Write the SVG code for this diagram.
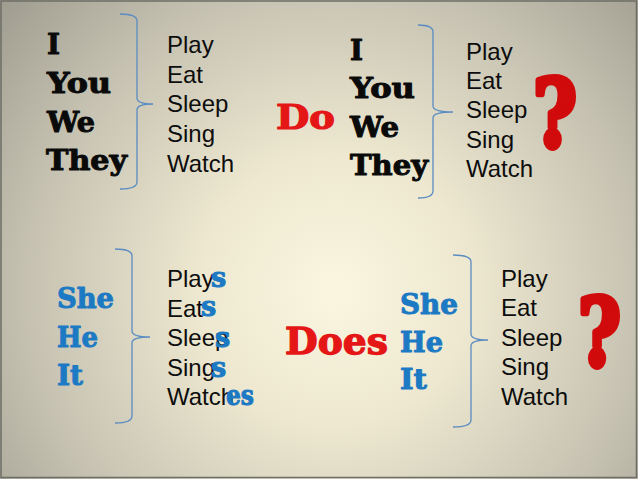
<svg xmlns="http://www.w3.org/2000/svg" width="638" height="479" viewBox="0 0 638 479">
  <defs>
    <radialGradient id="bg" gradientUnits="userSpaceOnUse" cx="335" cy="290" r="450">
      <stop offset="0" stop-color="#fbf6e0"/>
      <stop offset="0.3" stop-color="#eee8d0"/>
      <stop offset="0.7" stop-color="#c4c0b0"/>
      <stop offset="1" stop-color="#9c9a8d"/>
    </radialGradient>
  </defs>
  <style>
    .pr { font-family: "DejaVu Serif", "Liberation Serif", serif; font-weight: bold; font-size: 28px; stroke-width: 1; stroke-linejoin: round; }
    .big { font-size: 34px; stroke-width: 1.2; }
    .bigger { font-size: 38px; stroke-width: 1.3; }
    .blk { fill: #0a0a0a; stroke: #0a0a0a; }
    .blu { fill: #1c79c3; stroke: #1c79c3; }
    .red { fill: #e41616; stroke: #e41616; }
    .q { font-family: "DejaVu Serif", "Liberation Serif", serif; font-weight: bold; font-size: 94px; fill: #d10a0c; stroke: #d10a0c; stroke-width: 6; stroke-linejoin: round; }
    .vb { font-family: "Liberation Sans", Arial, sans-serif; font-size: 24px; fill: #0d0d0d; }
    .sx { font-family: "DejaVu Serif", "Liberation Serif", serif; font-weight: bold; font-size: 27px; fill: #1c79c3; stroke: #1c79c3; stroke-width: 1; stroke-linejoin: round; }
    .br { fill: none; stroke: #5b8cc2; stroke-width: 1.3; }
  </style>
  <rect x="0" y="0" width="638" height="479" fill="url(#bg)"/>
  <rect x="1" y="1" width="635.5" height="476.5" fill="none" stroke="#6e6d66" stroke-width="1.5"/>

  <g id="connectors">
    <path class="br" d="M120,14 Q137,14 137,21 L137,98 Q137,104 153,104 Q137,104 137,110 L137,182 Q137,189 120,189"/>
    <path class="br" d="M418,25 Q433,25 433,32 L433,106 Q433,112 453,112 Q433,112 433,118 L433,191 Q433,198 418,198"/>
    <path class="br" d="M115,249 Q132,249 132,256 L132,331 Q132,337 150,337 Q132,337 132,343 L132,416 Q132,423 115,423"/>
    <path class="br" d="M453,255 Q471,255 471,262 L471,334 Q471,340 488,340 Q471,340 471,346 L471,420 Q471,427 453,427"/>
  </g>

  <g id="pronouns-top-left" class="pr blk">
    <text x="47" y="54" textLength="13" lengthAdjust="spacingAndGlyphs">I</text>
    <text x="47" y="93" textLength="64" lengthAdjust="spacingAndGlyphs">You</text>
    <text x="47" y="132" textLength="48" lengthAdjust="spacingAndGlyphs">We</text>
    <text x="46" y="170" textLength="81" lengthAdjust="spacingAndGlyphs">They</text>
  </g>

  <g id="verbs-top-left" class="vb">
    <text x="167" y="53">Play</text>
    <text x="167" y="83">Eat</text>
    <text x="167" y="112">Sleep</text>
    <text x="167" y="142">Sing</text>
    <text x="167" y="172">Watch</text>
  </g>

  <g id="do">
    <text class="pr big red" x="276" y="129" textLength="59" lengthAdjust="spacingAndGlyphs">Do</text>
  </g>

  <g id="pronouns-top-right" class="pr blk">
    <text x="350" y="60" textLength="13" lengthAdjust="spacingAndGlyphs">I</text>
    <text x="350" y="98" textLength="65" lengthAdjust="spacingAndGlyphs">You</text>
    <text x="350" y="137" textLength="49" lengthAdjust="spacingAndGlyphs">We</text>
    <text x="350" y="175" textLength="78" lengthAdjust="spacingAndGlyphs">They</text>
  </g>

  <g id="verbs-top-right" class="vb">
    <text x="466" y="60">Play</text>
    <text x="466" y="89">Eat</text>
    <text x="466" y="118">Sleep</text>
    <text x="466" y="148">Sing</text>
    <text x="466" y="177">Watch</text>
  </g>

  <g id="question-top">
    <text class="q" x="533" y="147" textLength="44" lengthAdjust="spacingAndGlyphs">?</text>
  </g>

  <g id="pronouns-bottom-left" class="pr blu">
    <text x="57" y="308" textLength="57" lengthAdjust="spacingAndGlyphs">She</text>
    <text x="57" y="347" textLength="41" lengthAdjust="spacingAndGlyphs">He</text>
    <text x="57" y="385" textLength="26" lengthAdjust="spacingAndGlyphs">It</text>
  </g>

  <g id="verbs-bottom-left">
    <g class="vb">
      <text x="167" y="287">Play</text>
      <text x="167" y="317">Eat</text>
      <text x="167" y="346">Sleep</text>
      <text x="167" y="376">Sing</text>
      <text x="167" y="405">Watch</text>
    </g>
    <g class="sx">
      <text x="211" y="287">s</text>
      <text x="201" y="316">s</text>
      <text x="215" y="347">s</text>
      <text x="211" y="377">s</text>
      <text x="226" y="405" textLength="28" lengthAdjust="spacingAndGlyphs">es</text>
    </g>
  </g>

  <g id="does">
    <text class="pr bigger red" x="285" y="354" textLength="103" lengthAdjust="spacingAndGlyphs">Does</text>
  </g>

  <g id="pronouns-bottom-right" class="pr blu">
    <text x="400" y="314" textLength="58" lengthAdjust="spacingAndGlyphs">She</text>
    <text x="400" y="352" textLength="43" lengthAdjust="spacingAndGlyphs">He</text>
    <text x="400" y="389" textLength="27" lengthAdjust="spacingAndGlyphs">It</text>
  </g>

  <g id="verbs-bottom-right" class="vb">
    <text x="501" y="287">Play</text>
    <text x="501" y="316">Eat</text>
    <text x="501" y="346">Sleep</text>
    <text x="501" y="375">Sing</text>
    <text x="501" y="405">Watch</text>
  </g>

  <g id="question-bottom">
    <text class="q" x="578" y="366" textLength="43" lengthAdjust="spacingAndGlyphs">?</text>
  </g>
</svg>
